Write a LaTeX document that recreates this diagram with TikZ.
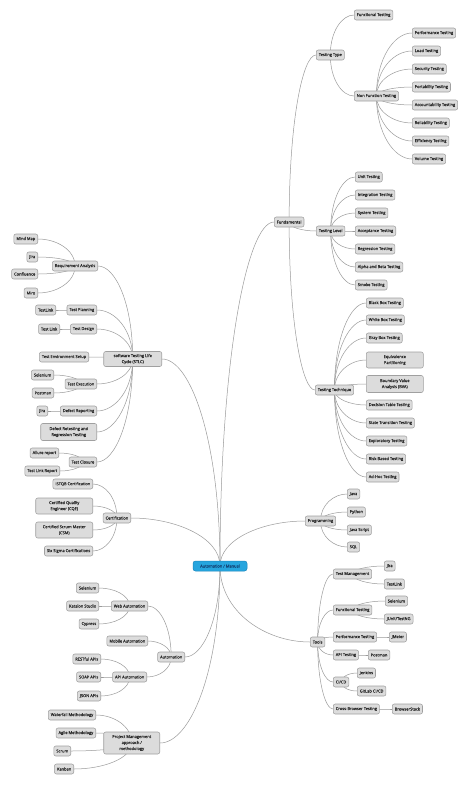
\documentclass[tikz,border=0pt]{standalone}
\usepackage{fontspec}
\setmainfont{Open Sans}[FakeBold=0.5,BoldFont=Open Sans,BoldFeatures={FakeBold=0.5}]
\newfontfamily\nodefont{Open Sans}[FakeBold=0.45]
\usetikzlibrary{calc,backgrounds}
\definecolor{nodefill}{RGB}{220,220,220}
\definecolor{nodeborder}{RGB}{160,160,160}
\definecolor{nodetext}{RGB}{45,45,45}
\definecolor{linecol}{RGB}{155,155,155}
\definecolor{rootfill}{RGB}{38,165,222}
\definecolor{rootborder}{RGB}{28,135,190}
\definecolor{roottext}{RGB}{20,70,120}
\tikzset{
  nbox/.style={draw=nodeborder, fill=nodefill, rounded corners=2pt, line width=0.55pt,
    inner xsep=2.5pt, inner ysep=0.5pt, minimum height=10pt, align=center,
    font=\nodefont\fontsize{4}{6}\selectfont, text=nodetext},
  R/.style={nbox, anchor=west},
  L/.style={nbox, anchor=east},
  rootbox/.style={draw=rootborder, fill=rootfill, rounded corners=2.5pt, line width=0.5pt,
    minimum width=54pt, minimum height=10pt, inner sep=1pt,
    font=\nodefont\fontsize{4}{6}\selectfont, text=roottext},
  lnk/.style={draw=linecol, line width=0.5pt}
}
\newcommand\mylinkR[2]{\draw[lnk] (#1.center) .. controls ($(#1.center)!0.6!(#1.center |- #2.west)$) and ($(#1.center |- #2.west)!0.5!(#2.west)$) .. (#2.west);}
\newcommand\mylinkL[2]{\draw[lnk] (#1.center) .. controls ($(#1.center)!0.6!(#1.center |- #2.east)$) and ($(#1.center |- #2.east)!0.5!(#2.east)$) .. (#2.east);}
\begin{document}
\begin{tikzpicture}[x=1pt,y=-1pt]
\useasboundingbox (0,0) rectangle (474,785);
% root
\node[rootbox] (root) at (220,566) {Automation / Manual};
% ---------- right side ----------
\node[R] (fund) at (274,222) {Fundamental};
\node[R] (ttype) at (316,55) {Testing Type};
\node[R] (func) at (354,15) {Functional Testing};
\node[R] (nonf) at (354,96) {Non Function Testing};
\node[R] (perf) at (412,33) {Performance Testing};
\node[R] (load) at (412,51) {Load Testing};
\node[R] (sec) at (412,69) {Security Testing};
\node[R] (port) at (412,87) {Portability Testing};
\node[R] (acc) at (412,105) {Accountability Testing};
\node[R] (rel) at (412,123) {Reliability Testing};
\node[R] (eff) at (412,141) {Efficiency Testing};
\node[R] (vol) at (412,159) {Volume Testing};
\node[R] (tlevel) at (316,231) {Testing Level};
\node[R] (unit) at (355,177) {Unit Testing};
\node[R] (integ) at (355,195) {Integration Testing};
\node[R] (sys) at (355,213) {System Testing};
\node[R] (accept) at (355,231) {Acceptance Testing};
\node[R] (regr) at (355,249) {Regression Testing};
\node[R] (alpha) at (355,267) {Alpha and Beta Testing};
\node[R] (smoke) at (355,285) {Smoke Testing};
\node[R] (ttech) at (315,390) {Testing Technique};
\node[R] (black) at (366,303) {Black Box Testing};
\node[R] (white) at (366,320) {White Box Testing};
\node[R] (gray) at (366,338) {Gray Box Testing};
\node[R, minimum width=57pt, minimum height=16pt] (equiv) at (366,360) {Equivalence\\Partitioning};
\node[R, minimum width=57pt, minimum height=17pt] (bva) at (366,384) {Boundary Value\\Analysis (BVA)};
\node[R] (dec) at (366,405) {Decision Table Testing};
\node[R] (state) at (366,423) {State Transition Testing};
\node[R] (expl) at (366,441) {Exploratory Testing};
\node[R] (risk) at (366,459) {Risk-Based Testing};
\node[R] (adhoc) at (366,477) {Ad-Hoc Testing};
\node[R] (prog) at (305,521) {Programming};
\node[R] (java) at (347,494) {Java};
\node[R] (py) at (347,512) {Python};
\node[R] (js) at (347,530) {Java Script};
\node[R] (sql) at (347,547) {SQL};
\node[R] (tools) at (310,642) {Tools};
\node[R] (tm) at (333,574) {Test Management};
\node[R] (tmjira) at (384,566) {Jira};
\node[R] (tmlink) at (384,584) {TestLink};
\node[R] (ft) at (333,610) {Functional Testing};
\node[R] (ftsel) at (385,601) {Selenium};
\node[R] (junit) at (384,619) {JUnit/TestNG};
\node[R] (pt) at (333,637) {Performance Testing};
\node[R] (jm) at (389,637) {JMeter};
\node[R] (api) at (333,655) {API Testing};
\node[R] (pman) at (368,655) {Postman};
\node[R] (cicd) at (333,682) {CI/CD};
\node[R] (jen) at (357,673) {Jenkins};
\node[R] (git) at (357,691) {GitLab CI/CD};
\node[R] (cb) at (333,709) {Cross-Browser Testing};
\node[R] (bs) at (392,709) {BrowserStack};
% ---------- left side ----------
\node[L, minimum width=58pt, minimum height=15pt] (stlc) at (162,359) {software Testing Life\\Cycle (STLC)};
\node[L] (req) at (98,266) {Requirement Analysis};
\node[L] (mind) at (38,239) {Mind Map};
\node[L] (rjira) at (38,257) {Jira};
\node[L] (conf) at (38,274) {Confluence};
\node[L] (miro) at (38,293) {Miro};
\node[L] (tplan) at (97,310) {Test Planning};
\node[L] (tplink) at (56,310) {TestLink};
\node[L] (tdes) at (97,329) {Test Design};
\node[L] (tdlink) at (60,329) {Test Link};
\node[L] (tenv) at (89,357) {Test Environment Setup};
\node[L] (texec) at (97,384) {Test Execution};
\node[L] (tesel) at (54,375) {Selenium};
\node[L] (tepost) at (54,393) {Postman};
\node[L] (dr) at (97,411) {Defect Reporting};
\node[L] (drjira) at (48,411) {Jira};
\node[L, minimum width=56pt, minimum height=17pt] (dret) at (97,432) {Defect Retesting and\\Regression Testing};
\node[L] (tclose) at (97,462) {Test Closure};
\node[L] (allure) at (59,453) {Allure report};
\node[L] (tlr) at (60,471) {Test Link Report};
\node[L] (cert) at (131,518) {Certification};
\node[L] (istqb) at (93,484) {ISTQB Certification};
\node[L, minimum width=57pt, minimum height=16pt] (cqe) at (93,506) {Certified Quality\\Engineer (CQE)};
\node[L, minimum width=57pt, minimum height=16pt] (csm) at (93,530) {Certified Scrum Master\\(CSM)};
\node[L] (six) at (93,551) {Six Sigma Certifications};
\node[L] (auto) at (185,657) {Automation};
\node[L] (web) at (148,606) {Web Automation};
\node[L] (wsel) at (99,588) {Selenium};
\node[L] (kat) at (99,606) {Katalon Studio};
\node[L] (cyp) at (99,624) {Cypress};
\node[L] (mob) at (148,641) {Mobile Automation};
\node[L] (apia) at (147,677) {API Automation};
\node[L] (rest) at (101,659) {RESTful APIs};
\node[L] (soap) at (101,677) {SOAP APIs};
\node[L] (json) at (101,696) {JSON APIs};
\node[L, minimum width=56pt, minimum height=22pt] (pma) at (160,743) {Project Management\\approach /\\methodology};
\node[L] (wat) at (96,715) {Waterfall Methodology};
\node[L] (agile) at (96,733) {Agile Methodology};
\node[L] (scrum) at (71,751) {Scrum};
\node[L] (kanban) at (74,769) {Kanban};
% ---------- connectors ----------
\begin{pgfonlayer}{background}
\fill[white] (0,0) rectangle (474,785);
\mylinkR{root}{fund}\mylinkR{root}{prog}\mylinkR{root}{tools}
\mylinkL{root}{stlc}\mylinkL{root}{cert}\mylinkL{root}{auto}\mylinkL{root}{pma}
\mylinkR{fund}{ttype}\mylinkR{fund}{tlevel}\mylinkR{fund}{ttech}
\mylinkR{ttype}{func}\mylinkR{ttype}{nonf}
\foreach \c in {perf,load,sec,port,acc,rel,eff,vol}{\mylinkR{nonf}{\c}}
\foreach \c in {unit,integ,sys,accept,regr,alpha,smoke}{\mylinkR{tlevel}{\c}}
\foreach \c in {black,white,gray,equiv,bva,dec,state,expl,risk,adhoc}{\mylinkR{ttech}{\c}}
\foreach \c in {java,py,js,sql}{\mylinkR{prog}{\c}}
\foreach \c in {tm,ft,pt,api,cicd,cb}{\mylinkR{tools}{\c}}
\mylinkR{tm}{tmjira}\mylinkR{tm}{tmlink}
\mylinkR{ft}{ftsel}\mylinkR{ft}{junit}
\mylinkR{pt}{jm}\mylinkR{api}{pman}
\mylinkR{cicd}{jen}\mylinkR{cicd}{git}
\mylinkR{cb}{bs}
\foreach \c in {req,tplan,tdes,tenv,texec,dr,dret,tclose}{\mylinkL{stlc}{\c}}
\foreach \c in {mind,rjira,conf,miro}{\mylinkL{req}{\c}}
\mylinkL{tplan}{tplink}\mylinkL{tdes}{tdlink}
\mylinkL{texec}{tesel}\mylinkL{texec}{tepost}
\mylinkL{dr}{drjira}
\mylinkL{tclose}{allure}\mylinkL{tclose}{tlr}
\foreach \c in {istqb,cqe,csm,six}{\mylinkL{cert}{\c}}
\foreach \c in {web,mob,apia}{\mylinkL{auto}{\c}}
\foreach \c in {wsel,kat,cyp}{\mylinkL{web}{\c}}
\foreach \c in {rest,soap,json}{\mylinkL{apia}{\c}}
\foreach \c in {wat,agile,scrum,kanban}{\mylinkL{pma}{\c}}
\end{pgfonlayer}
\end{tikzpicture}
\end{document}
